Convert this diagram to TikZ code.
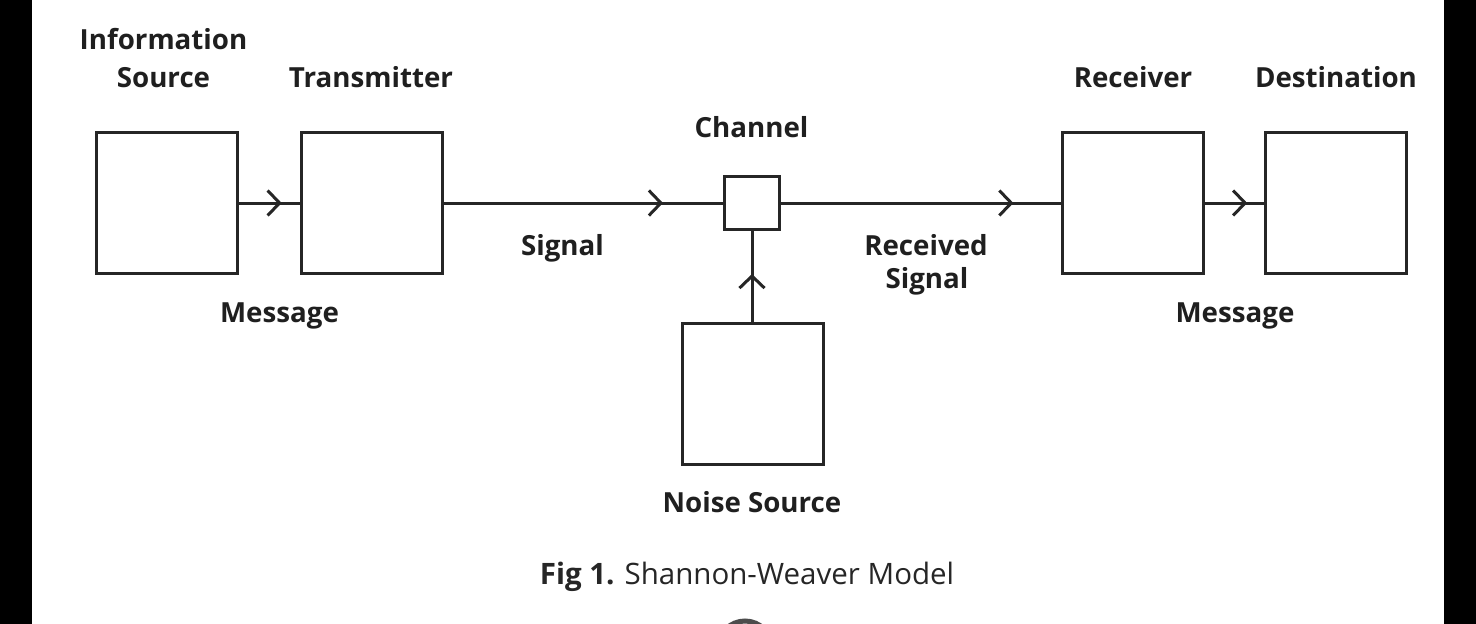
\documentclass[tikz,border=0pt]{standalone}
\usepackage{fontspec}
\setmainfont{Open Sans}
\usetikzlibrary{arrows.meta,decorations.markings}
\tikzset{
  box/.style={draw=black!85, line width=3pt, minimum width=141pt, minimum height=141pt, inner sep=0pt},
  chan/.style={draw=black!85, line width=3pt, minimum width=55pt, minimum height=53pt, inner sep=0pt},
  lbl/.style={anchor=base, inner sep=0pt, text=black!88, font=\fontsize{27.7}{32}\selectfont\bfseries},
  conn/.style={draw=black!85, line width=3pt},
  midarrow/.style={postaction={decorate, decoration={markings,
     mark=at position #1 with {\arrow[line width=3pt]{Straight Barb[length=12pt,width=25pt]}}}}}
}
\begin{document}
\begin{tikzpicture}[x=1pt,y=-1pt]
\useasboundingbox (0,0) rectangle (1476,624);
\fill[white] (0,0) rectangle (1476,624);
\fill[black] (0,0) rectangle (32,624);
\fill[black] (1444,0) rectangle (1476,624);
% boxes
\node[box] (src) at (167,203) {};
\node[box] (tx) at (372,203) {};
\node[chan] (ch) at (752,203) {};
\node[box] (rx) at (1133,203) {};
\node[box] (dst) at (1336,203) {};
\node[box] (noise) at (753,393.5) {};
% connectors
\draw[conn, midarrow=0.70] (src.east) -- (tx.west);
\draw[conn, midarrow=0.785] (tx.east) -- (ch.west);
\draw[conn, midarrow=0.83] (ch.east) -- (rx.west);
\draw[conn, midarrow=0.715] (rx.east) -- (dst.west);
\draw[conn, midarrow=0.525] (noise.north -| ch.south) -- (ch.south);
% labels
\node[lbl] (l1a) at (163.5,49) {Information};
\node[lbl] (l1b) at (163.5,87) {Source};
\node[lbl] (l2) at (371,87) {Transmitter};
\node[lbl] (l3) at (751.5,137) {Channel};
\node[lbl] (l4) at (1133,87) {Receiver};
\node[lbl] (l5) at (1336,87) {Destination};
\node[lbl] (m1) at (279.5,322) {Message};
\node[lbl] (m2) at (1235,322) {Message};
\node[lbl] (sg) at (562.5,255) {Signal};
\node[lbl] (rs1) at (926,255) {Received};
\node[lbl] (rs2) at (927,288) {Signal};
\node[lbl] (ns) at (752,512) {Noise Source};
\node[anchor=base, inner sep=0pt, text=black!85, font=\fontsize{29.5}{34}\selectfont] (cap) at (747,584) {\textbf{Fig 1.}\hspace{10pt}Shannon-Weaver Model};
% artifact at bottom
\draw[black!70, line width=5pt] (745,648) circle (27);
\end{tikzpicture}
\end{document}
